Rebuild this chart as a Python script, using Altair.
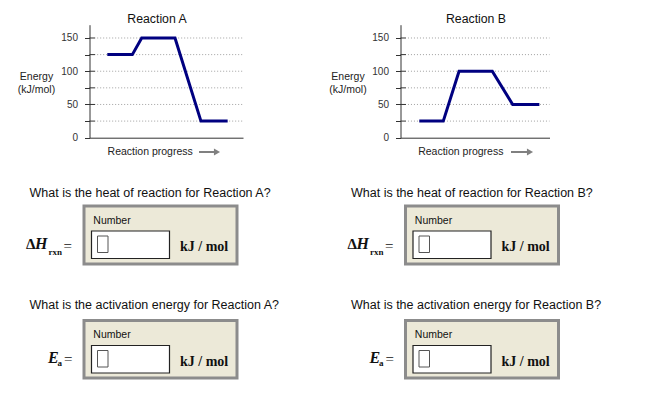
import altair as alt
import pandas as pd

# ---------------- data ----------------
reactions = ["Reaction A", "Reaction B"]
progress_a = [1.16, 2.79, 3.40, 5.57, 7.26, 9.0]
energy_a = [125, 125, 150, 150, 25, 25]
progress_b = [1.26, 2.87, 3.93, 6.16, 7.53, 9.32]
energy_b = [25, 25, 100, 100, 50, 50]
energy_ticks = [0, 25, 50, 75, 100, 125, 150]
grid_levels = [25, 50, 75, 100, 125, 150]
y_title = ["Energy", "(kJ/mol)"]
x_title = "Reaction progress"
heat_questions = ["What is the heat of reaction for Reaction A?",
                  "What is the heat of reaction for Reaction B?"]
act_questions = ["What is the activation energy for Reaction A?",
                 "What is the activation energy for Reaction B?"]
box_label = "Number"
unit_label = "kJ / mol"

# ---------------- layout ----------------
W, H = 638, 383
P = 8  # page margin, positions below are page pixels
SANS = "Liberation Sans"
SERIF = "Liberation Serif"
one = pd.DataFrame({"k": [0]})


def txt(s, x, y, size=12, font=SANS, weight="normal", style="normal",
        align="left", baseline="middle", color="#111"):
    return alt.Chart(one).mark_text(
        text=s, fontSize=size, font=font, fontWeight=weight, fontStyle=style,
        align=align, baseline=baseline, color=color
    ).encode(x=alt.value(x - P), y=alt.value(y - P))


def box(x1, y1, x2, y2, fill, stroke, sw):
    return alt.Chart(one).mark_rect(
        fill=fill, stroke=stroke, strokeWidth=sw
    ).encode(x=alt.value(x1 - P), x2=alt.value(x2 - P),
             y=alt.value(y1 - P), y2=alt.value(y2 - P))


def panel(progress, energy, x0, x1, ytitle_cx, xtitle_cx):
    y_zero, y_top = 137.7, 24.7
    xs = alt.Scale(domain=[0, 10], range=[x0 - P, x1 - P], nice=False, zero=False)
    ys = alt.Scale(domain=[0, 170], range=[y_zero - P, y_top - P], nice=False, zero=False)
    ax_x = alt.Axis(orient="bottom", offset=(y_zero - P) - H, ticks=False,
                    labels=False, grid=False, domainColor="#333", domainWidth=1,
                    title=x_title, titleX=xtitle_cx - P, titleY=14,
                    titleFont=SANS, titleFontSize=10.5, titleFontWeight="normal",
                    titleColor="#222", titleAlign="center", titleBaseline="middle")
    ax_y = alt.Axis(orient="left", offset=-(x0 - P), values=energy_ticks,
                    labelExpr="datum.value % 50 == 0 ? datum.label : ''",
                    tickSize=5, labelPadding=7, labelFont=SANS, labelFontSize=10,
                    labelColor="#333", domainColor="#333", tickColor="#333",
                    labelOverlap=False, grid=False,
                    title=y_title, titleAngle=0, titleX=ytitle_cx - x0,
                    titleY=76 - P, titleAlign="center", titleBaseline="middle",
                    titleFont=SANS, titleFontSize=10.5, titleFontWeight="normal",
                    titleLineHeight=13, titleColor="#222")
    gdf = pd.DataFrame({"energy": grid_levels})
    grid = alt.Chart(gdf).mark_rule(color="#a0a0a0", strokeDash=[1, 2], strokeWidth=1).encode(
        x=alt.X(datum=0.5, type="quantitative", scale=xs, axis=ax_x),
        x2=alt.X2(datum=10),
        y=alt.Y("energy:Q", scale=ys, axis=ax_y),
    )
    inner = alt.Chart(gdf).mark_rule(color="#333", strokeWidth=1).encode(
        x=alt.X(datum=0, type="quantitative", scale=xs, axis=ax_x),
        x2=alt.X2(datum=0.37),
        y=alt.Y("energy:Q", scale=ys, axis=ax_y),
    )
    df = pd.DataFrame({"progress": progress, "energy": energy})
    line = alt.Chart(df).mark_line(color="#000080", strokeWidth=3).encode(
        x=alt.X("progress:Q", scale=xs, axis=ax_x),
        y=alt.Y("energy:Q", scale=ys, axis=ax_y),
    )
    return alt.layer(grid, inner, line)


pA = panel(progress_a, energy_a, 89.5, 243, 36, 149.7)
pB = panel(progress_b, energy_b, 400.5, 549.5, 347.5, 460.3)

decor = []
# chart titles
decor.append(txt(reactions[0], 157, 18.5, size=12.3, align="center", color="#111"))
decor.append(txt(reactions[1], 476, 18.5, size=12.3, align="center", color="#111"))


def arrow(xa, xb, y):
    r = alt.Chart(one).mark_rule(color="#808080", strokeWidth=2).encode(
        x=alt.value(xa - P), x2=alt.value(xb - P), y=alt.value(y - P))
    h = alt.Chart(one).mark_point(shape="triangle-right", filled=True, size=50,
                                  color="#808080", opacity=1).encode(
        x=alt.value(xb + 3 - P), y=alt.value(y - P))
    return [r, h]


decor += arrow(199, 214, 152)
decor += arrow(511, 527, 152)


def form(dx, qy, q, by1, by2, big, sub, ymath, is_h):
    items = []
    items.append(txt(q, 29.5 + dx, qy, size=12.5, color="#111"))
    items.append(box(84 + dx, by1, 237 + dx, by2, "#ECE9D8", "#8c8c8c", 3))
    items.append(txt(box_label, 93.3 + dx, by1 + 14.5, size=10.5, color="#111"))
    items.append(box(91.5 + dx, by1 + 25, 169.5 + dx, by1 + 52.5, "#ffffff", "#222", 1.2))
    items.append(box(97.5 + dx, by1 + 30, 108 + dx, by1 + 46.5, "#ffffff", "#555", 1))
    items.append(txt(unit_label, 180 + dx, by1 + 41, size=14, font=SERIF,
                     weight="bold", color="#111"))
    if is_h:
        items.append(txt("Δ", 26 + dx, ymath, size=15, font=SERIF, weight="bold"))
        items.append(txt(big, 35 + dx, ymath, size=16, font=SERIF, weight="bold", style="italic"))
        items.append(txt(sub, 48.5 + dx, ymath + 8, size=9, font=SERIF, weight="bold"))
        items.append(txt("=", 63.5 + dx, ymath + 2, size=15, font=SERIF))
    else:
        items.append(txt(big, 48 + dx, ymath, size=16, font=SERIF, weight="bold", style="italic"))
        items.append(txt(sub, 57.5 + dx, ymath + 4.5, size=9, font=SERIF, weight="bold"))
        items.append(txt("=", 64 + dx, ymath + 1, size=15, font=SERIF))
    return items


for i, dx in enumerate([0, 321.5]):
    decor += form(dx, 192.7, heat_questions[i], 206, 264, "H", "rxn", 244, True)
    decor += form(dx, 305, act_questions[i], 320.5, 378, "E", "a", 358, False)

chart = alt.layer(pA, pB, *decor).resolve_scale(
    x="independent", y="independent"
).properties(
    width=W, height=H, autosize=alt.AutoSizeParams(type="none"), padding=0
).configure_view(stroke=None)

chart.save("out.html", embed_options={"renderer": "svg", "actions": False})
